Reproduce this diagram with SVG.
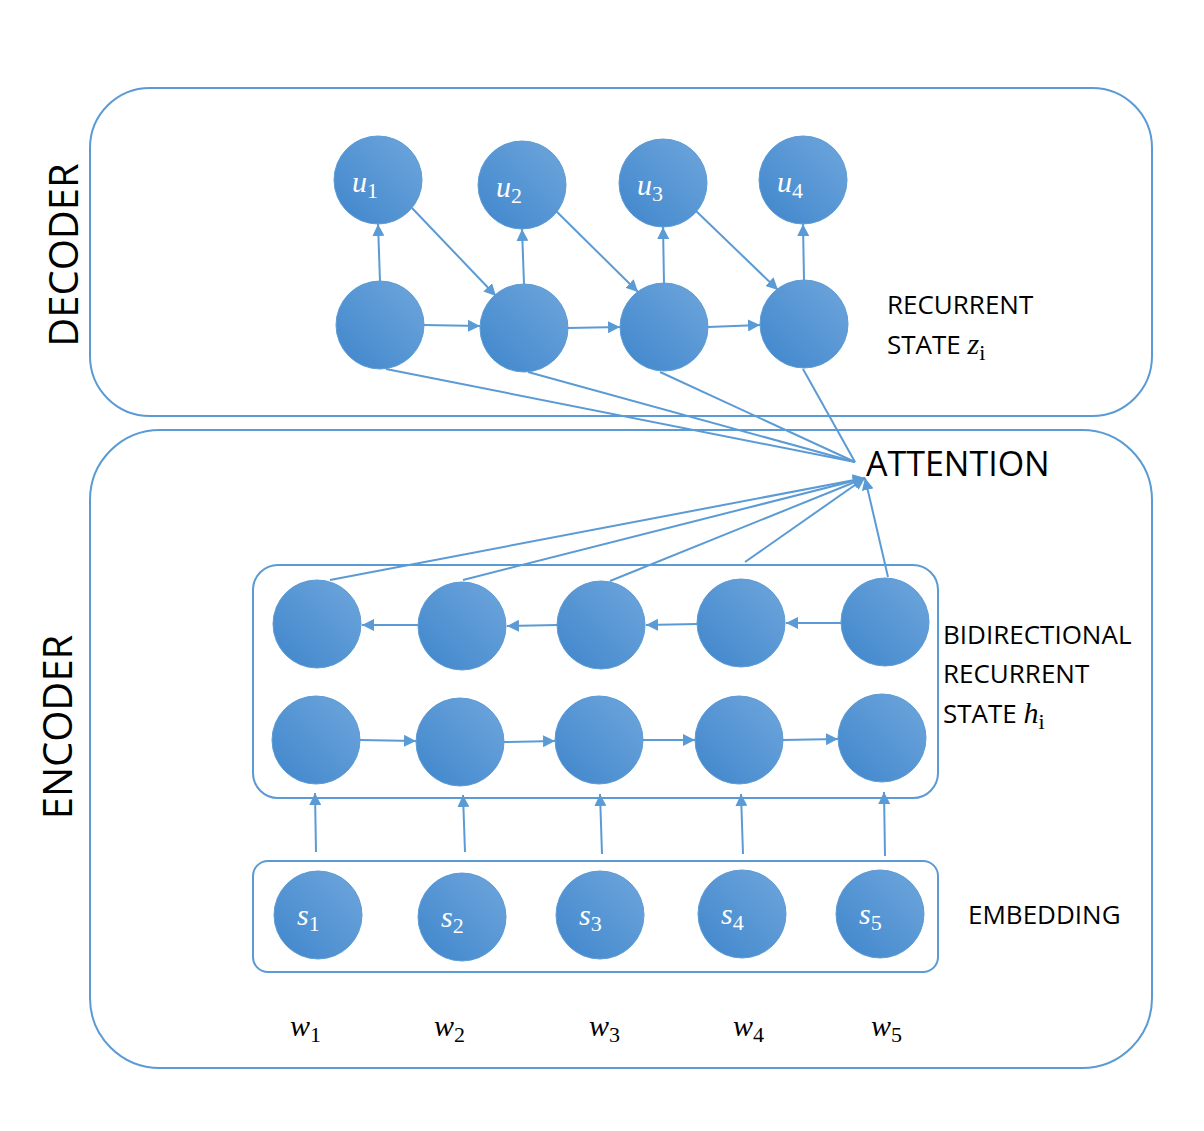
<svg xmlns="http://www.w3.org/2000/svg" width="1204" height="1131" viewBox="0 0 1204 1131">
<style>
.box{fill:none;stroke:#5b9bd5;stroke-width:2}
.n{fill:url(#g);stroke:#5b9bd5;stroke-width:1}
.c line{stroke:#5b9bd5;stroke-width:2}
.a{marker-end:url(#m)}
.t{font-family:"Open Sans","Liberation Sans",sans-serif;fill:#000}
.m{font-family:"Liberation Serif",serif;font-style:italic;fill:#fff;font-size:30px}
.mb{font-family:"Liberation Serif",serif;font-style:italic;fill:#000;font-size:30px}
.sub{font-style:normal;font-size:22px}
</style>
<defs>
<linearGradient id="g" x1="1" y1="0" x2="0" y2="1"><stop offset="0" stop-color="#6fa6dc"/><stop offset="1" stop-color="#3f86cc"/></linearGradient>
<marker id="m" viewBox="0 0 10 10" refX="10" refY="5" markerWidth="6" markerHeight="6" orient="auto"><path d="M0,0L10,5L0,10z" fill="#5b9bd5"/></marker>
</defs>
<rect class="box" x="90" y="88" width="1062" height="328" rx="60"/>
<rect class="box" x="90" y="430" width="1062" height="638" rx="70"/>
<rect class="box" x="253" y="565" width="685" height="233" rx="25"/>
<rect class="box" x="253" y="861" width="685" height="111" rx="15"/>
<g class="c">
<line class="a" x1="380" y1="281" x2="378" y2="224"/>
<line class="a" x1="524" y1="284" x2="522" y2="229"/>
<line class="a" x1="664" y1="283" x2="663" y2="227"/>
<line class="a" x1="804" y1="280" x2="803" y2="224"/>
<line class="a" x1="412" y1="208" x2="496" y2="296"/>
<line class="a" x1="553" y1="208" x2="638" y2="292"/>
<line class="a" x1="695" y1="210" x2="778" y2="290"/>
<line class="a" x1="424" y1="325" x2="480" y2="326"/>
<line class="a" x1="568" y1="328" x2="620" y2="327"/>
<line class="a" x1="708" y1="327" x2="760" y2="325"/>
<line x1="386" y1="369" x2="855" y2="462"/>
<line x1="528" y1="372" x2="855" y2="462"/>
<line x1="660" y1="372" x2="855" y2="462"/>
<line x1="803" y1="369" x2="855" y2="462"/>
<line class="a" x1="330" y1="580" x2="865" y2="478"/>
<line class="a" x1="463" y1="580" x2="865" y2="478"/>
<line class="a" x1="610" y1="581" x2="865" y2="478"/>
<line class="a" x1="745" y1="562" x2="865" y2="478"/>
<line class="a" x1="888" y1="577" x2="865" y2="478"/>
<line class="a" x1="418" y1="625" x2="362" y2="625"/>
<line class="a" x1="557" y1="625" x2="507" y2="626"/>
<line class="a" x1="697" y1="624" x2="646" y2="625"/>
<line class="a" x1="841" y1="623" x2="786" y2="623"/>
<line class="a" x1="360" y1="740" x2="416" y2="741"/>
<line class="a" x1="504" y1="742" x2="555" y2="741"/>
<line class="a" x1="643" y1="740" x2="695" y2="740"/>
<line class="a" x1="783" y1="740" x2="838" y2="739"/>
<line class="a" x1="316" y1="852" x2="315" y2="793"/>
<line class="a" x1="465" y1="852" x2="463" y2="795"/>
<line class="a" x1="602" y1="854" x2="600" y2="794"/>
<line class="a" x1="743" y1="854" x2="741" y2="794"/>
<line class="a" x1="885" y1="856" x2="884" y2="792"/>
</g>
<g id="u1"><circle class="n" cx="378" cy="180" r="44"/><text class="m" x="352" y="192">u<tspan class="sub" dy="6">1</tspan></text></g>
<g id="u2"><circle class="n" cx="522" cy="185" r="44"/><text class="m" x="496" y="197">u<tspan class="sub" dy="6">2</tspan></text></g>
<g id="u3"><circle class="n" cx="663" cy="183" r="44"/><text class="m" x="637" y="195">u<tspan class="sub" dy="6">3</tspan></text></g>
<g id="u4"><circle class="n" cx="803" cy="180" r="44"/><text class="m" x="777" y="192">u<tspan class="sub" dy="6">4</tspan></text></g>
<g id="z1"><circle class="n" cx="380" cy="325" r="44"/></g>
<g id="z2"><circle class="n" cx="524" cy="328" r="44"/></g>
<g id="z3"><circle class="n" cx="664" cy="327" r="44"/></g>
<g id="z4"><circle class="n" cx="804" cy="324" r="44"/></g>
<g id="hb1"><circle class="n" cx="317" cy="624" r="44"/></g>
<g id="hb2"><circle class="n" cx="462" cy="626" r="44"/></g>
<g id="hb3"><circle class="n" cx="601" cy="625" r="44"/></g>
<g id="hb4"><circle class="n" cx="741" cy="623" r="44"/></g>
<g id="hb5"><circle class="n" cx="885" cy="622" r="44"/></g>
<g id="hf1"><circle class="n" cx="316" cy="740" r="44"/></g>
<g id="hf2"><circle class="n" cx="460" cy="742" r="44"/></g>
<g id="hf3"><circle class="n" cx="599" cy="740" r="44"/></g>
<g id="hf4"><circle class="n" cx="739" cy="740" r="44"/></g>
<g id="hf5"><circle class="n" cx="882" cy="738" r="44"/></g>
<g id="s1"><circle class="n" cx="318" cy="915" r="44"/><text class="m" x="297" y="925">s<tspan class="sub" dy="6">1</tspan></text></g>
<g id="s2"><circle class="n" cx="462" cy="917" r="44"/><text class="m" x="441" y="927">s<tspan class="sub" dy="6">2</tspan></text></g>
<g id="s3"><circle class="n" cx="600" cy="915" r="44"/><text class="m" x="579" y="925">s<tspan class="sub" dy="6">3</tspan></text></g>
<g id="s4"><circle class="n" cx="742" cy="914" r="44"/><text class="m" x="721" y="924">s<tspan class="sub" dy="6">4</tspan></text></g>
<g id="s5"><circle class="n" cx="880" cy="914" r="44"/><text class="m" x="859" y="924">s<tspan class="sub" dy="6">5</tspan></text></g>
<g id="labels">
<text class="t" font-size="40" transform="translate(78,255) rotate(-90)" text-anchor="middle">DECODER</text>
<text class="t" font-size="40" transform="translate(72,727) rotate(-90)" text-anchor="middle">ENCODER</text>
<text class="t" font-size="34" x="866" y="476">ATTENTION</text>
<text class="t" font-size="26" x="887" y="314">RECURRENT</text>
<text class="t" font-size="26" x="887" y="354">STATE <tspan class="mb" font-size="28">z<tspan class="sub" dy="6">i</tspan></tspan></text>
<text class="t" font-size="26" x="943" y="644">BIDIRECTIONAL</text>
<text class="t" font-size="26" x="943" y="683">RECURRENT</text>
<text class="t" font-size="26" x="943" y="723">STATE <tspan class="mb" font-size="28">h<tspan class="sub" dy="6">i</tspan></tspan></text>
<text class="t" font-size="26" x="968" y="924">EMBEDDING</text>
<text class="mb" x="290" y="1036">w<tspan class="sub" dy="6">1</tspan></text>
<text class="mb" x="434" y="1036">w<tspan class="sub" dy="6">2</tspan></text>
<text class="mb" x="589" y="1036">w<tspan class="sub" dy="6">3</tspan></text>
<text class="mb" x="733" y="1036">w<tspan class="sub" dy="6">4</tspan></text>
<text class="mb" x="871" y="1036">w<tspan class="sub" dy="6">5</tspan></text>
</g>
</svg>
